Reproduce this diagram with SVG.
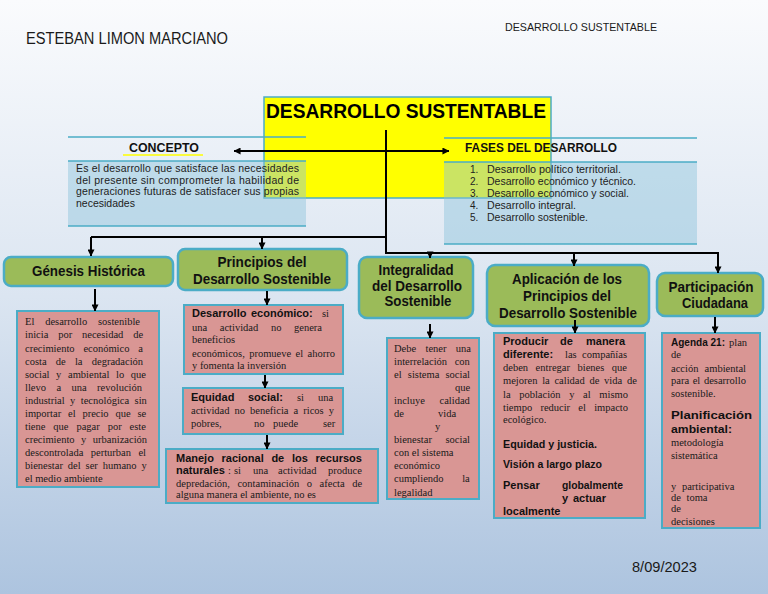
<svg xmlns="http://www.w3.org/2000/svg" width="768" height="594" viewBox="0 0 768 594">
<defs>
<linearGradient id="bg" x1="0" y1="0" x2="0" y2="1">
<stop offset="0" stop-color="#fafbfd"/>
<stop offset="0.5" stop-color="#dbe5f1"/>
<stop offset="1" stop-color="#adc4df"/>
</linearGradient>
<marker id="ah" viewBox="0 0 8 8" refX="7.5" refY="4" markerWidth="7" markerHeight="7" markerUnits="userSpaceOnUse" orient="auto-start-reverse">
<path d="M0,0 L8,4 L0,8 z" fill="#000"/>
</marker>
<style>
.sans{font-family:"Liberation Sans",Arial,sans-serif}
.hdr{font-family:"Liberation Sans",Arial,sans-serif;fill:#1a1a1a}
.ttl{font-family:"Liberation Sans",Arial,sans-serif;font-weight:bold;font-size:15px;fill:#111;text-anchor:middle}
.srf{font-family:"Liberation Serif","Times New Roman",serif;font-size:10.5px;fill:#1a1a1a}
.bd{font-family:"Liberation Sans",Arial,sans-serif;font-weight:bold;font-size:11px;fill:#111}
.lst{font-family:"Liberation Sans",Arial,sans-serif;font-size:10px;fill:#222}
.green{fill:#9bbb59;stroke:#4bacc6;stroke-width:2.5}
.pink{fill:#d99694;stroke:#4bacc6;stroke-width:2}
.bl{stroke:#4bacc6;stroke-width:1.5}
.pane{fill:#8cc3dc;fill-opacity:0.45}
.cn{stroke:#000;stroke-width:2;fill:none}
.ar{stroke:#000;stroke-width:2;fill:none;marker-end:url(#ah)}
</style>
</defs>
<rect width="768" height="594" fill="url(#bg)"/>

<g id="header">
<text class="hdr" x="26" y="44" font-size="16" textLength="202" lengthAdjust="spacingAndGlyphs">ESTEBAN LIMON MARCIANO</text>
<text class="hdr" x="505" y="31" font-size="11.5" textLength="152" lengthAdjust="spacingAndGlyphs">DESARROLLO SUSTENTABLE</text>
<text class="hdr" x="632" y="572" font-size="14" fill="#333" textLength="65" lengthAdjust="spacingAndGlyphs">8/09/2023</text>
</g>

<g id="main">
<rect x="264" y="97" width="287" height="101" fill="#ffff00" stroke="#4bacc6" stroke-width="1.5"/>
<text class="sans" x="266" y="118" font-size="20" font-weight="bold" fill="#000" textLength="280" lengthAdjust="spacingAndGlyphs">DESARROLLO SUSTENTABLE</text>
</g>

<g id="concepto">
<rect class="pane" x="68" y="161" width="238" height="65"/>
<line class="bl" x1="68" y1="137" x2="306" y2="137"/>
<line class="bl" x1="68" y1="161" x2="306" y2="161"/>
<line class="bl" x1="68" y1="226" x2="306" y2="226"/>
<line x1="123" y1="155" x2="203" y2="155" stroke="#ffff00" stroke-width="1.5"/>
<text class="sans" x="129" y="152" font-size="13" font-weight="bold" fill="#111" textLength="70" lengthAdjust="spacingAndGlyphs">CONCEPTO</text>
<text class="sans" font-size="10.5" fill="#222">
<tspan x="76" y="172" textLength="223" lengthAdjust="spacing">Es el desarrollo que satisface las  necesidades</tspan>
<tspan x="76" y="183.5" textLength="223" lengthAdjust="spacing">del presente sin comprometer  la habilidad de</tspan>
<tspan x="76" y="195" textLength="223" lengthAdjust="spacing">generaciones futuras de  satisfacer sus propias</tspan>
<tspan x="76" y="207">necesidades</tspan>
</text>
</g>

<g id="fases">
<rect class="pane" x="444" y="162" width="253" height="82"/>
<line class="bl" x1="444" y1="138" x2="697" y2="138"/>
<line class="bl" x1="444" y1="162" x2="697" y2="162"/>
<line class="bl" x1="444" y1="244" x2="697" y2="244"/>
<text class="sans" x="465" y="152" font-size="13" font-weight="bold" fill="#111" textLength="152" lengthAdjust="spacingAndGlyphs">FASES DEL DESARROLLO</text>
<text class="lst"><tspan x="470" y="173">1.</tspan><tspan x="487" y="173" textLength="134" lengthAdjust="spacingAndGlyphs">Desarrollo político territorial.</tspan></text>
<text class="lst"><tspan x="470" y="185">2.</tspan><tspan x="487" y="185" textLength="149" lengthAdjust="spacingAndGlyphs">Desarrollo económico y técnico.</tspan></text>
<text class="lst"><tspan x="470" y="197">3.</tspan><tspan x="487" y="197" textLength="142" lengthAdjust="spacingAndGlyphs">Desarrollo económico y social.</tspan></text>
<text class="lst"><tspan x="470" y="209">4.</tspan><tspan x="487" y="209" textLength="89" lengthAdjust="spacingAndGlyphs">Desarrollo integral.</tspan></text>
<text class="lst"><tspan x="470" y="221">5.</tspan><tspan x="487" y="221" textLength="101" lengthAdjust="spacingAndGlyphs">Desarrollo sostenible.</tspan></text>
</g>

<g id="genesis">
<rect class="green" x="4" y="257" width="169" height="29" rx="7"/>
<text class="ttl" x="88.5" y="276" textLength="113" lengthAdjust="spacingAndGlyphs">Génesis Histórica</text>
</g>
<g id="genesis-texto">
<rect class="pink" x="17" y="311" width="142" height="176"/>
<text class="srf">
<tspan x="25" y="325" word-spacing="8.2">El desarrollo sostenible</tspan>
<tspan x="25" y="338" word-spacing="7.2">inicia por necesidad de</tspan>
<tspan x="25" y="351.5" word-spacing="6.2">crecimiento económico a</tspan>
<tspan x="25" y="364.5" word-spacing="6.6">costa de la degradación</tspan>
<tspan x="25" y="377.5" word-spacing="4">social y ambiental lo que</tspan>
<tspan x="25" y="390.5" word-spacing="7.8">llevo a una revolución</tspan>
<tspan x="25" y="403.5" word-spacing="2.8">industrial y tecnológica sin</tspan>
<tspan x="25" y="416.5" word-spacing="4.2">importar el precio que se</tspan>
<tspan x="25" y="429.5" word-spacing="5.3">tiene que pagar por este</tspan>
<tspan x="25" y="442.5" word-spacing="3.9">crecimiento y urbanización</tspan>
<tspan x="25" y="455.5" word-spacing="4.8">descontrolada perturban el</tspan>
<tspan x="25" y="468.5" word-spacing="2.3">bienestar del ser humano y</tspan>
<tspan x="25" y="481.5">el medio ambiente</tspan>
</text>
</g>

<g id="principios">
<rect class="green" x="178" y="249" width="169" height="41" rx="7"/>
<text class="ttl" x="262" y="267" textLength="89" lengthAdjust="spacingAndGlyphs">Principios del</text>
<text class="ttl" x="262" y="284" textLength="138" lengthAdjust="spacingAndGlyphs">Desarrollo Sostenible</text>
</g>
<g id="economico">
<rect class="pink" x="184" y="305" width="159" height="69"/>
<text class="bd"><tspan x="192" y="317">Desarrollo</tspan><tspan x="251" y="317">económico:</tspan></text>
<text class="srf" x="322" y="317">si</text>
<text class="srf">
<tspan x="192" y="330.5" word-spacing="10">una actividad no genera</tspan>
<tspan x="192" y="343">beneficios</tspan>
<tspan x="192" y="356.5" word-spacing="1.8">económicos, promueve el ahorro</tspan>
<tspan x="192" y="369">y fomenta  la inversión</tspan>
</text>
</g>
<g id="equidad">
<rect class="pink" x="183" y="388" width="160" height="46"/>
<text class="bd"><tspan x="191" y="401">Equidad</tspan><tspan x="248" y="401">social:</tspan></text>
<text class="srf"><tspan x="297" y="401">si</tspan><tspan x="318" y="401">una</tspan></text>
<text class="srf">
<tspan x="191" y="414" word-spacing="2.4">actividad no beneficia a ricos y</tspan>
</text>
<text class="srf"><tspan x="191" y="427">pobres,</tspan><tspan x="254" y="427">no</tspan><tspan x="273" y="427">puede</tspan><tspan x="323" y="427">ser</tspan></text>
</g>
<g id="manejo">
<rect class="pink" x="166" y="449" width="212" height="54"/>
<text class="bd" x="176" y="462" word-spacing="4.6">Manejo racional de los recursos</text>
<text class="bd" x="176" y="474">naturales</text>
<text class="srf"><tspan x="228" y="474">:</tspan><tspan x="234" y="474">si</tspan><tspan x="253" y="474">una</tspan><tspan x="278" y="474">actividad</tspan><tspan x="328" y="474">produce</tspan></text>
<text class="srf">
<tspan x="176" y="486.5" word-spacing="4.9">depredación, contaminación o afecta de</tspan>
<tspan x="176" y="498">alguna manera el ambiente, no es</tspan>
</text>
</g>

<g id="integralidad">
<rect class="green" x="359" y="257" width="114" height="61" rx="8"/>
<text class="ttl" x="416" y="275" font-size="13" textLength="75" lengthAdjust="spacingAndGlyphs">Integralidad</text>
<text class="ttl" x="417" y="290.5" font-size="13" textLength="90" lengthAdjust="spacingAndGlyphs">del Desarrollo</text>
<text class="ttl" x="418" y="306" font-size="13" textLength="67" lengthAdjust="spacingAndGlyphs">Sostenible</text>
</g>
<g id="integralidad-texto">
<rect class="pink" x="387" y="338" width="92" height="161"/>
<text class="srf">
<tspan x="394" y="352" word-spacing="6.7">Debe tener una</tspan>
<tspan x="394" y="365" word-spacing="5">interrelación con</tspan>
<tspan x="394" y="378" word-spacing="3.6">el sistema social</tspan>
<tspan x="455" y="390.5">que</tspan>
<tspan x="394" y="403.5" word-spacing="12">incluye calidad</tspan>
<tspan x="394" y="416.5">de</tspan><tspan x="438" y="416.5">vida</tspan>
<tspan x="435" y="429.5">y</tspan>
<tspan x="394" y="443" word-spacing="11">bienestar social</tspan>
<tspan x="394" y="456">con el sistema</tspan>
<tspan x="394" y="468.5">económico</tspan>
<tspan x="394" y="482" word-spacing="16">cumpliendo la</tspan>
<tspan x="394" y="495.5">legalidad</tspan>
</text>
</g>

<g id="aplicacion">
<rect class="green" x="487" y="265" width="162" height="61" rx="8"/>
<text class="ttl" x="567" y="284" textLength="110" lengthAdjust="spacingAndGlyphs">Aplicación de los</text>
<text class="ttl" x="567" y="301" textLength="88" lengthAdjust="spacingAndGlyphs">Principios del</text>
<text class="ttl" x="568" y="318" textLength="138" lengthAdjust="spacingAndGlyphs">Desarrollo Sostenible</text>
</g>
<g id="aplicacion-texto">
<rect class="pink" x="494" y="333" width="151" height="185"/>
<text class="bd"><tspan x="503" y="345">Producir</tspan><tspan x="560" y="345">de</tspan><tspan x="586" y="345">manera</tspan></text>
<text class="bd" x="503" y="358">diferente:</text>
<text class="srf" x="565" y="358" word-spacing="2.8">las compañías</text>
<text class="srf">
<tspan x="503" y="371" word-spacing="4.9">deben entregar bienes que</tspan>
<tspan x="503" y="384" word-spacing="2.1">mejoren la calidad de vida de</tspan>
<tspan x="503" y="398" word-spacing="6">la población y al mismo</tspan>
<tspan x="503" y="411" word-spacing="5.6">tiempo reducir el impacto</tspan>
<tspan x="503" y="423">ecológico.</tspan>
</text>
<text class="bd" x="503" y="448" textLength="94" lengthAdjust="spacingAndGlyphs">Equidad y justicia.</text>
<text class="bd" x="503" y="468" textLength="99" lengthAdjust="spacingAndGlyphs">Visión a largo plazo</text>
<text class="bd"><tspan x="503" y="489">Pensar</tspan><tspan x="562" y="489" textLength="61" lengthAdjust="spacingAndGlyphs">globalmente</tspan></text>
<text class="bd"><tspan x="562" y="502">y</tspan><tspan x="573" y="502">actuar</tspan></text>
<text class="bd" x="503" y="515">localmente</text>
</g>

<g id="participacion">
<rect class="green" x="657" y="273" width="106" height="43" rx="8"/>
<text class="ttl" x="711" y="292" textLength="85" lengthAdjust="spacingAndGlyphs">Participación</text>
<text class="ttl" x="715" y="308" textLength="66" lengthAdjust="spacingAndGlyphs">Ciudadana</text>
</g>
<g id="participacion-texto">
<rect class="pink" x="662" y="333" width="98" height="195"/>
<text class="bd" x="671" y="346" textLength="54" lengthAdjust="spacingAndGlyphs">Agenda 21:</text>
<text class="srf" x="729" y="346">plan</text>
<text class="srf">
<tspan x="671" y="358">de</tspan>
<tspan x="671" y="372" word-spacing="3.6">acción ambiental</tspan>
<tspan x="671" y="384" word-spacing="1">para el desarrollo</tspan>
<tspan x="671" y="397">sostenible.</tspan>
</text>
<text class="bd" x="671" y="419" font-size="12" textLength="81" lengthAdjust="spacingAndGlyphs">Planificación</text>
<text class="bd" x="671" y="433" font-size="12" textLength="61" lengthAdjust="spacingAndGlyphs">ambiental:</text>
<text class="srf">
<tspan x="671" y="446">metodología</tspan>
<tspan x="671" y="459">sistemática</tspan>
<tspan x="671" y="490" word-spacing="3">y participativa</tspan>
<tspan x="671" y="501" word-spacing="3">de toma</tspan>
<tspan x="671" y="512">de</tspan>
<tspan x="671" y="525">decisiones</tspan>
</text>
</g>

<g id="connectors">
<line class="cn" x1="386" y1="130" x2="386" y2="253"/>
<line class="cn" x1="91" y1="237" x2="387" y2="237"/>
<line class="cn" x1="385" y1="253" x2="719" y2="253"/>
<line class="ar" x1="91" y1="237" x2="91" y2="256"/>
<line class="ar" x1="262" y1="237" x2="262" y2="249"/>
<line class="ar" x1="430" y1="253" x2="430" y2="258"/>
<line class="ar" x1="574" y1="253" x2="574" y2="266"/>
<line class="ar" x1="718" y1="253" x2="718" y2="273"/>
<line class="cn" x1="234" y1="151" x2="449" y2="151" marker-start="url(#ah)" marker-end="url(#ah)"/>
<line class="ar" x1="95" y1="289" x2="95" y2="311"/>
<line class="ar" x1="267" y1="291" x2="267" y2="305"/>
<line class="ar" x1="265" y1="375" x2="265" y2="388"/>
<line class="ar" x1="267" y1="435" x2="267" y2="449"/>
<line class="ar" x1="430" y1="324" x2="430" y2="338"/>
<line class="ar" x1="575" y1="320" x2="575" y2="333"/>
<line class="ar" x1="715" y1="317" x2="715" y2="333"/>
</g>
</svg>
